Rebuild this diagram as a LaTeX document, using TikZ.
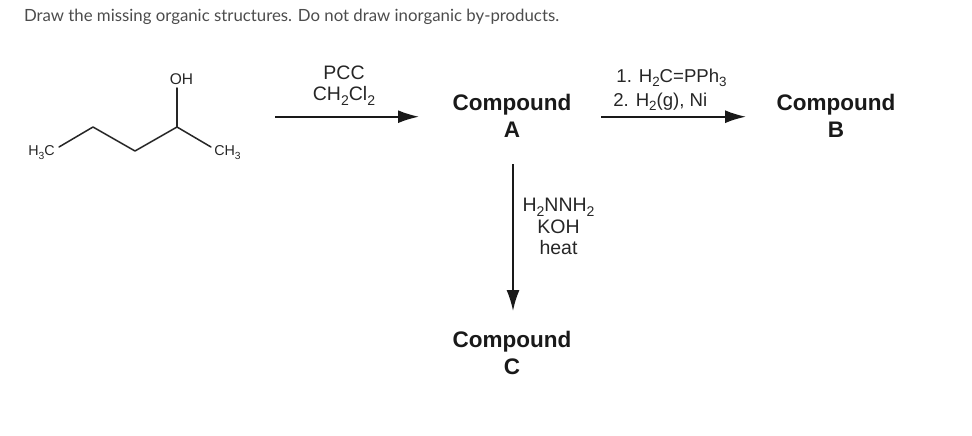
\documentclass[tikz,border=0pt]{standalone}
\usepackage{fontspec}
\setmainfont{Liberation Sans}
\newfontfamily\headfont{Lato}
\usetikzlibrary{arrows.meta}
\newcommand{\subs}[1]{\raisebox{-0.24em}{\fontsize{0.72em}{1em}\selectfont #1}}
\tikzset{
  every node/.style={inner sep=0pt, outer sep=0pt, align=center, text=black!85},
  bond/.style={line width=1.5pt, draw=black!85, line cap=round, line join=round},
  rxn/.style={line width=1.8pt, draw=black!90, -{Latex[length=21pt,width=13pt]}},
  atom/.style={font=\fontsize{15.5}{17}\selectfont},
  group/.style={font=\fontsize{14.3}{17}\selectfont},
  reag/.style={font=\fontsize{19.5}{21.5}\selectfont},
  wittig/.style={font=\fontsize{18.6}{24}\selectfont, align=left},
  cpd/.style={font=\fontsize{22.5}{27}\selectfont\bfseries, text=black!90},
}
\begin{document}
\begin{tikzpicture}[x=1pt,y=-1pt]
\useasboundingbox (0,0) rectangle (972,436);
\node[anchor=west, font=\fontsize{16.8}{20}\selectfont\headfont, text=black!70] (title) at (24,17) {Draw the missing organic structures. Do not draw inorganic by-products.};
\node[group] (ch3l) at (41.5,152.5) {H\subs{3}C};
\node[group] (ch3r) at (227.5,152.5) {CH\subs{3}};
\node[atom] (oh) at (181.5,79) {OH};
\coordinate (c2) at (93,127);
\coordinate (c3) at (135,151);
\coordinate (c4) at (177,127);
\coordinate (bl) at (59,147);
\coordinate (br) at (211,147);
\coordinate (bo) at (177,88);
\draw[bond] (bl) -- (c2) -- (c3) -- (c4) -- (br);
\draw[bond] (c4) -- (bo);
\coordinate (a1s) at (275,116.7);
\coordinate (a1e) at (419,116.7);
\coordinate (a2s) at (601,116.7);
\coordinate (a2e) at (746,116.7);
\coordinate (a3s) at (513,164);
\coordinate (a3e) at (513,311);
\draw[rxn] (a1s) -- (a1e);
\draw[rxn] (a2s) -- (a2e);
\draw[rxn] (a3s) -- (a3e);
\node[reag] (pcc) at (344,85.5) {PCC\\CH\subs{2}Cl\subs{2}};
\node[wittig] (wit) at (670,90) {\,1. H\subs{2}C=PPh\subs{3}\\2. H\subs{2}(g), Ni};
\node[reag] (wk) at (558.5,226.5) {H\subs{2}NNH\subs{2}\\KOH\\heat};
\node[cpd] (A) at (512,116) {Compound\\A};
\node[cpd] (B) at (836,116) {Compound\\B};
\node[cpd] (C) at (512,353) {Compound\\C};
\end{tikzpicture}
\end{document}
